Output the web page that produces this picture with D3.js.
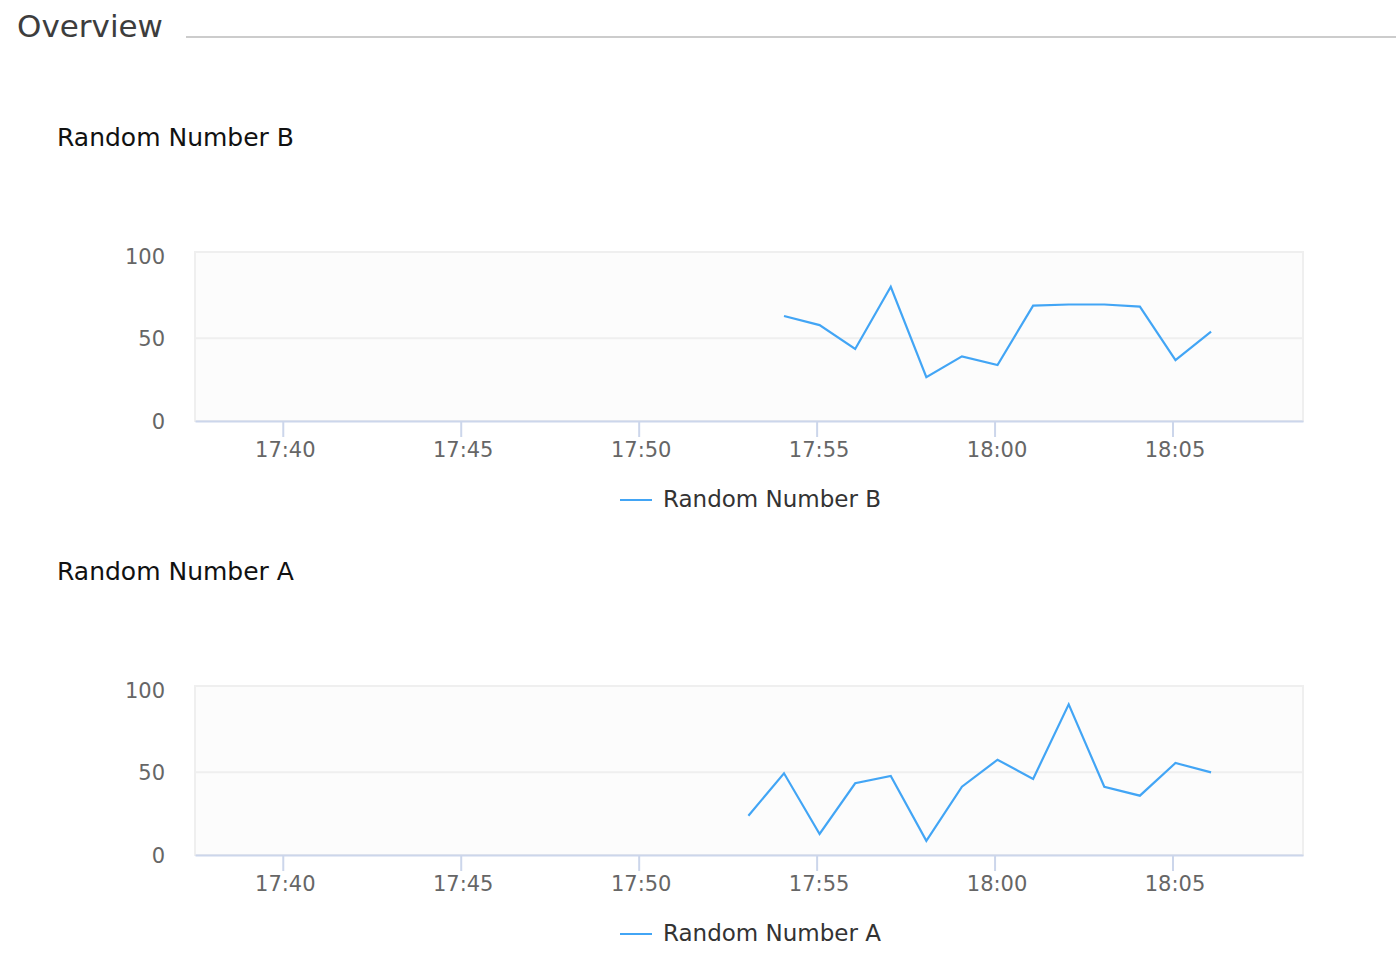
<!DOCTYPE html>
<html>
<head>
<meta charset="utf-8">
<script src="https://cdn.jsdelivr.net/npm/d3@7"></script>
<style>
  html, body { margin: 0; padding: 0; background: #fff; }
  svg { display: block; font-family: "DejaVu Sans", "Lucida Grande", sans-serif; }
</style>
</head>
<body>
<svg id="chart" width="1396" height="976"></svg>
<script>
// ---- Data ----
const pageTitle = "Overview";
const chartTitles = ["Random Number B", "Random Number A"];
const seriesNames = ["Random Number B", "Random Number A"];

const timesB = ["17:54:05","17:55:05","17:56:05","17:57:05","17:58:05","17:59:05","18:00:05","18:01:05","18:02:05","18:03:05","18:04:05","18:05:05","18:06:05"];
const valuesB = [63.4, 57.9, 43.5, 81.0, 26.4, 39.0, 33.8, 69.6, 70.3, 70.3, 69.0, 36.8, 53.9];

const timesA = ["17:53:05","17:54:05","17:55:05","17:56:05","17:57:05","17:58:05","17:59:05","18:00:05","18:01:05","18:02:05","18:03:05","18:04:05","18:05:05","18:06:05"];
const valuesA = [23.7, 49.3, 12.7, 43.3, 47.7, 8.6, 41.2, 57.5, 45.9, 90.9, 41.2, 35.8, 55.5, 49.9];

const xDomain = ["17:37:32", "18:08:40"];
const yDomain = [0, 102];
const yTicks = [0, 50, 100];
const xTickMinutes = 5;

// ---- Helpers ----
const parse = s => { const [h, m, sec] = s.split(":").map(Number); return new Date(2020, 0, 1, h, m, sec || 0); };
const fmt = d3.timeFormat("%H:%M");

const svg = d3.select("#chart");
svg.append("rect").attr("width", 1396).attr("height", 976).attr("fill", "#fff");

// Header
svg.append("text").attr("x", 17).attr("y", 37)
  .attr("font-size", 31).attr("fill", "#3d3d3d").text(pageTitle);
svg.append("line").attr("x1", 186).attr("x2", 1396).attr("y1", 37).attr("y2", 37)
  .attr("stroke", "#cccccc").attr("stroke-width", 2);

const lineColor = "#42a5f5";
const plotLeft = 195, plotRight = 1303;

function drawChart(idx, times, values, offsetY) {
  const g = svg.append("g").attr("transform", `translate(0,${offsetY})`);
  const plotTop = 252, plotBottom = 421;

  const x = d3.scaleTime().domain(xDomain.map(parse)).range([plotLeft, plotRight]);
  const y = d3.scaleLinear().domain(yDomain).range([plotBottom, plotTop]);

  // Title
  g.append("text").attr("x", 57).attr("y", 146)
    .attr("font-size", 25).attr("fill", "#111").text(chartTitles[idx]);

  // Plot background / frame
  g.append("rect").attr("x", plotLeft).attr("y", plotTop)
    .attr("width", plotRight - plotLeft).attr("height", plotBottom - plotTop)
    .attr("fill", "#fcfcfc").attr("stroke", "#efefef").attr("stroke-width", 2);

  // Grid lines (inner ticks)
  g.selectAll(".grid").data(yTicks.filter(v => v > yDomain[0] && v < 100))
    .enter().append("line")
    .attr("x1", plotLeft).attr("x2", plotRight)
    .attr("y1", d => y(d)).attr("y2", d => y(d))
    .attr("stroke", "#efefef").attr("stroke-width", 2);

  // Y axis labels
  const yAxis = d3.axisLeft(y).tickValues(yTicks).tickSize(0).tickPadding(30);
  const ya = g.append("g").attr("transform", `translate(${plotLeft},1)`).call(yAxis);
  ya.select(".domain").remove();
  ya.selectAll("text").attr("font-size", 21).attr("fill", "#666")
    .attr("font-family", "DejaVu Sans");

  // X axis
  const xAxis = d3.axisBottom(x).ticks(d3.timeMinute.every(xTickMinutes))
    .tickFormat(fmt).tickSize(16).tickSizeOuter(0).tickPadding(5);
  const xa = g.append("g").attr("transform", `translate(0,${plotBottom})`).call(xAxis);
  xa.select(".domain").attr("stroke", "#ccd6eb").attr("stroke-width", 2);
  xa.selectAll(".tick line").attr("stroke", "#ccd6eb").attr("stroke-width", 2);
  xa.selectAll("text").attr("font-size", 21).attr("fill", "#666")
    .attr("font-family", "DejaVu Sans").attr("dx", 2);

  // Series line
  const pts = times.map((t, i) => ({ t: parse(t), v: values[i] }));
  g.append("path").datum(pts)
    .attr("fill", "none").attr("stroke", lineColor).attr("stroke-width", 2.2)
    .attr("stroke-linejoin", "miter")
    .attr("d", d3.line().x(d => x(d.t)).y(d => y(d.v)));

  // Legend
  g.append("line").attr("x1", 620).attr("x2", 652).attr("y1", 500).attr("y2", 500)
    .attr("stroke", lineColor).attr("stroke-width", 2);
  g.append("text").attr("x", 663).attr("y", 507)
    .attr("font-size", 23).attr("fill", "#333").text(seriesNames[idx]);
}

drawChart(0, timesB, valuesB, 0);
drawChart(1, timesA, valuesA, 434);
</script>
</body>
</html>
